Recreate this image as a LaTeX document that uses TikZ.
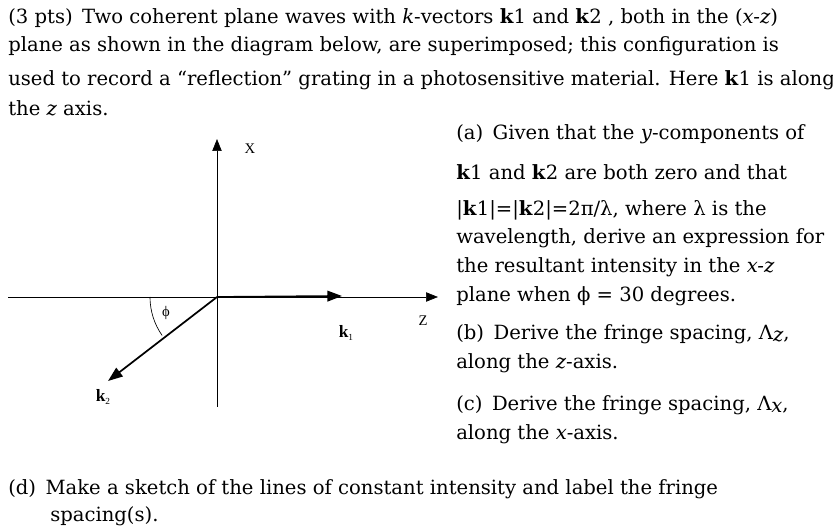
\documentclass[tikz,border=0pt]{standalone}
\usepackage{fontspec}
\setmainfont{DejaVu Serif}
\newfontfamily\tnr{Liberation Serif}
\usetikzlibrary{arrows.meta}
\begin{document}
\begin{tikzpicture}[x=0.75pt,y=-0.75pt,
  txt/.style={anchor=west,inner sep=0,font=\fontsize{14.7}{17}\selectfont},
  lab/.style={inner sep=0,font=\tnr\fontsize{11}{12}\selectfont},
  klab/.style={inner sep=0,font=\tnr\fontsize{13}{14}\selectfont},
  ax/.style={line width=0.5pt},
  vec/.style={line width=1.3pt,-{Triangle[length=11pt,width=8pt]}}]
\useasboundingbox (0,0) rectangle (833,531);
\node[txt] (t1) at (8,18) {(3 pts)\, Two coherent plane waves with \textit{k}-vectors \textbf{k}1 and \textbf{k}2 , both in the (\textit{x-z})};
\node[txt] (t2) at (8,46) {plane as shown in the diagram below, are superimposed; this configuration is};
\node[txt] (t3) at (8,80) {used to record a “reflection” grating in a photosensitive material. Here \textbf{k}1 is along};
\node[txt] (t4) at (8,108) {the \textit{z} axis.};
\node[txt] (r1) at (456,134) {(a)\, Given that the \textit{y}-components of};
\node[txt] (r2) at (456,172) {\textbf{k}1 and \textbf{k}2 are both zero and that};
\node[txt] (r3) at (456,210) {|\textbf{k}1|=|\textbf{k}2|=2π/λ, where λ is the};
\node[txt] (r4) at (456,238) {wavelength, derive an expression for};
\node[txt] (r5) at (456,267) {the resultant intensity in the \textit{x-z}};
\node[txt] (r6) at (456,296) {plane when ϕ = 30 degrees.};
\node[txt] (r7) at (456,334) {(b)\, Derive the fringe spacing, Λ\textit{\raisebox{-2pt}{z}},};
\node[txt] (r8) at (456,363) {along the \textit{z}-axis.};
\node[txt] (r9) at (456,405) {(c)\, Derive the fringe spacing, Λ\textit{\raisebox{-2pt}{x}},};
\node[txt] (r10) at (456,434) {along the \textit{x}-axis.};
\node[txt] (b1) at (8,489) {(d)\, Make a sketch of the lines of constant intensity and label the fringe};
\node[txt] (b2) at (50,516) {spacing(s).};
% diagram
\coordinate (O) at (217,297);
\coordinate (L) at (8,297);
\coordinate (R) at (438,297);
\coordinate (B) at (217,407);
\coordinate (T) at (217,139);
\coordinate (K1) at (342,296);
\coordinate (K2) at (108,381);
\draw[ax,-{Triangle[length=9pt,width=7pt]}] (B) -- (T);
\draw[ax,-{Triangle[length=9pt,width=7pt]}] (L) -- (R);
\draw[vec] (O) -- (K1);
\draw[vec] (O) -- (K2);
\draw[ax] (150,297) arc[start angle=180,end angle=145,radius=67];
\node[lab] (X) at (250,149) {X};
\node[lab] (Z) at (423,321) {Z};
\node[lab] (phi) at (166,313) {ϕ};
\node[klab] (k1) at (346,333) {\textbf{k}\raisebox{-2pt}{\scriptsize 1}};
\node[klab] (k2) at (103,397) {\textbf{k}\raisebox{-2pt}{\scriptsize 2}};
\end{tikzpicture}
\end{document}
